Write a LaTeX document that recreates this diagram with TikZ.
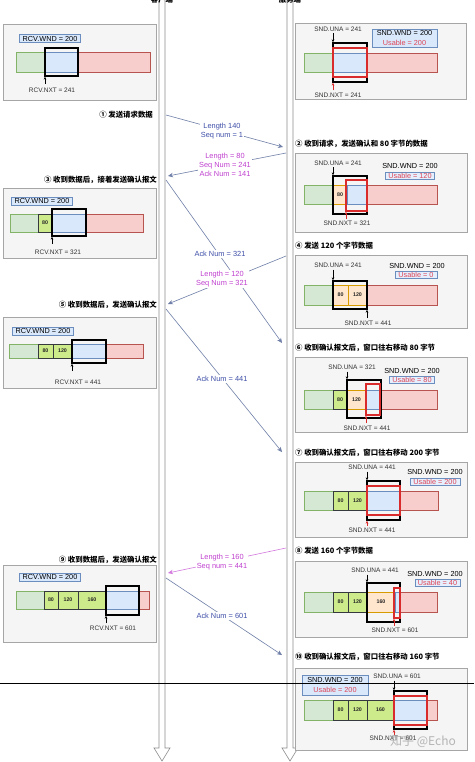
\documentclass[tikz,border=0pt]{standalone}
\usepackage{fontspec}
\setmainfont{Liberation Sans}
\newfontfamily\cjk{Noto Sans CJK SC}
\usetikzlibrary{arrows.meta}
\definecolor{gfill}{HTML}{D5E8D4}\definecolor{gline}{HTML}{82B366}
\definecolor{bfill}{HTML}{DAE8FC}\definecolor{bline}{HTML}{6C8EBF}
\definecolor{rfill}{HTML}{F8CECC}\definecolor{rline}{HTML}{B85450}
\definecolor{ofill}{HTML}{FFE6CC}\definecolor{oline}{HTML}{D79B00}
\definecolor{dfill}{HTML}{CDEB8B}\definecolor{dline}{HTML}{36393D}
\definecolor{pfill}{HTML}{F5F5F5}\definecolor{pline}{HTML}{A6A6A6}
\definecolor{usered}{HTML}{DD4455}
\definecolor{winred}{HTML}{D92B2B}
\definecolor{msgline}{HTML}{6F7FA8}
\definecolor{msgblue}{HTML}{3F4FA8}
\definecolor{msgpink}{HTML}{C040D0}
\newcommand\barseg[5]{\draw[#1] (#2,#4) rectangle (#3,#5);}
\begin{document}
\begin{tikzpicture}[x=1pt,y=-1pt,
  panel/.style={draw=pline,fill=pfill,line width=0.6pt},
  gseg/.style={draw=gline,fill=gfill,line width=0.6pt},
  bseg/.style={draw=bline,fill=bfill,line width=0.6pt},
  rseg/.style={draw=rline,fill=rfill,line width=0.6pt},
  oseg/.style={draw=oline,fill=ofill,line width=0.6pt},
  dseg/.style={draw=dline,fill=dfill,line width=0.6pt},
  win/.style={draw=black,line width=1.3pt},
  usewin/.style={draw=winred,line width=1.1pt},
  lbl/.style={font=\fontsize{6.5}{7}\selectfont,text=black!80,inner sep=0.5pt},
  wnd/.style={font=\fontsize{7.3}{8}\selectfont,inner sep=1pt},
  wndbox/.style={wnd,draw=bline,fill=bfill,line width=0.5pt,inner xsep=3pt,inner ysep=1.2pt},
  usebox/.style={wnd,text=usered,draw=bline,fill=bfill!70,line width=0.5pt,inner xsep=3pt,inner ysep=0.8pt},
  num/.style={font=\fontsize{5.3}{5.5}\selectfont\bfseries,inner sep=0pt,text=black!85},
  ttl/.style={font=\cjk\bfseries\fontsize{7.4}{8}\selectfont,inner sep=0pt},
  ptr/.style={-{Stealth[length=3pt,width=2.6pt]},line width=0.5pt},
  msg/.style={-{Stealth[length=5pt,width=4.5pt]},draw=msgline,line width=0.6pt},
  mtxt/.style={font=\fontsize{7.4}{9}\selectfont,fill=white,inner sep=0.8pt,align=center},
  tl/.style={draw=black!45,fill=white,line width=0.6pt}]
\useasboundingbox (0,0) rectangle (474,762);
\fill[white] (0,0) rectangle (474,762);

% timelines
\draw[tl] (159,-3) -- (159,748) -- (154,748) -- (162,761) -- (170,748) -- (165,748) -- (165,-3);
\draw[tl] (287,-3) -- (287,748) -- (282,748) -- (290,761) -- (298,748) -- (293,748) -- (293,-3);
\node[ttl] (hc) at (162,0) {客户端};
\node[ttl] (hs) at (290,0) {服务端};

% ---------- client panel 1
\draw[panel] (3,24) rectangle (156,100);
\node[wndbox] (c1w) at (50,38.5) {RCV.WND = 200};
\barseg{gseg}{16}{45}{52}{72}
\barseg{bseg}{45}{78}{52}{72}
\barseg{rseg}{78}{150}{52}{72}
\draw[win] (45,48) rectangle (78,76);
\coordinate (c1pa) at (45,84); \coordinate (c1pb) at (45,76.7);
\draw[ptr] (c1pa) -- (c1pb);
\node[lbl] (c1n) at (52,90.5) {RCV.NXT = 241};
\node[ttl,anchor=east] (t1) at (153,115) {① 发送请求数据};

% ---------- client panel 2
\node[ttl,anchor=east] (t3) at (157,180) {③ 收到数据后，接着发送确认报文};
\draw[panel] (3,188) rectangle (156,258);
\node[wndbox] (c2w) at (42,201) {RCV.WND = 200};
\barseg{gseg}{10}{38}{214}{232}
\barseg{dseg}{38}{52}{214}{232}
\barseg{bseg}{52}{86}{214}{232}
\barseg{rseg}{86}{143}{214}{232}
\node[num] (c2a) at (45,223) {80};
\draw[win] (52,209) rectangle (86,236);
\coordinate (c2pa) at (52,244); \coordinate (c2pb) at (52,236.7);
\draw[ptr] (c2pa) -- (c2pb);
\node[lbl] (c2n) at (58,252) {RCV.NXT = 321};

% ---------- client panel 3
\node[ttl,anchor=east] (t5) at (157,305) {⑤ 收到数据后，发送确认报文};
\draw[panel] (3,317) rectangle (156,388);
\node[wndbox] (c3w) at (43,331) {RCV.WND = 200};
\barseg{gseg}{9}{38}{344}{358}
\barseg{dseg}{38}{53}{344}{358}
\barseg{dseg}{53}{72}{344}{358}
\barseg{bseg}{72}{106}{344}{358}
\barseg{rseg}{106}{143}{344}{358}
\node[num] (c3a) at (45.5,351) {80};
\node[num] (c3b) at (62.5,351) {120};
\draw[win] (72,340) rectangle (106,363);
\coordinate (c3pa) at (72,371); \coordinate (c3pb) at (72,363.7);
\draw[ptr] (c3pa) -- (c3pb);
\node[lbl] (c3n) at (78,382) {RCV.NXT = 441};

% ---------- client panel 4
\node[ttl,anchor=east] (t9) at (157,560) {⑨ 收到数据后，发送确认报文};
\draw[panel] (3,565) rectangle (156,642);
\node[wndbox] (c4w) at (50,577) {RCV.WND = 200};
\barseg{gseg}{16}{44}{591}{609}
\barseg{dseg}{44}{58}{591}{609}
\barseg{dseg}{58}{78}{591}{609}
\barseg{dseg}{78}{106}{591}{609}
\barseg{bseg}{106}{139}{591}{609}
\barseg{rseg}{139}{149}{591}{609}
\node[num] (c4a) at (51,600) {80};
\node[num] (c4b) at (68,600) {120};
\node[num] (c4c) at (92,600) {160};
\draw[win] (106,586) rectangle (139,615);
\coordinate (c4pa) at (106,623); \coordinate (c4pb) at (106,615.7);
\draw[ptr] (c4pa) -- (c4pb);
\node[lbl] (c4n) at (113,628) {RCV.NXT = 601};

% ---------- server panel 1
\draw[panel] (295,23) rectangle (466,99);
\barseg{gseg}{304}{333}{53}{72}
\barseg{bseg}{333}{367}{53}{72}
\barseg{rseg}{367}{437}{53}{72}
\draw[win] (333,43) rectangle (367,82);
\draw[usewin] (333,48) rectangle (367,77);
\node[lbl] (s1u) at (338,29) {SND.UNA = 241};
\coordinate (s1ua) at (333,33.5); \coordinate (s1ub) at (333,42.3);
\draw[ptr] (s1ua) -- (s1ub);
\coordinate (s1na) at (333,90.5); \coordinate (s1nb) at (333,82.7);
\draw[ptr,winred] (s1na) -- (s1nb);
\node[lbl] (s1n) at (338,95) {SND.NXT = 241};
\node[wnd,draw=bline,fill=bfill,line width=0.5pt,minimum width=65pt,minimum height=18pt,align=center,font=\fontsize{7.3}{9.5}\selectfont] (s1w) at (404.5,38) {SND.WND = 200\\\textcolor{usered}{Usable = 200}};

% ---------- server panel 2
\node[ttl,anchor=west] (t2) at (295,144) {② 收到请求，发送确认和 80 字节的数据};
\draw[panel] (295,153) rectangle (467,232);
\barseg{gseg}{304}{333}{185}{204}
\barseg{oseg}{333}{347}{185}{204}
\barseg{bseg}{347}{367}{185}{204}
\barseg{rseg}{367}{437}{185}{204}
\node[num] (s2a) at (340,194.5) {80};
\draw[win] (333,176) rectangle (367,214);
\draw[usewin] (346,180) rectangle (367,211);
\node[lbl] (s2u) at (338,163) {SND.UNA = 241};
\coordinate (s2ua) at (333,167.5); \coordinate (s2ub) at (333,175.3);
\draw[ptr] (s2ua) -- (s2ub);
\coordinate (s2na) at (346,219); \coordinate (s2nb) at (346,211.7);
\draw[ptr,winred] (s2na) -- (s2nb);
\node[lbl] (s2n) at (347,223) {SND.NXT = 321};
\node[wnd] (s2w) at (410,166) {SND.WND = 200};
\node[usebox,minimum width=48pt] (s2s) at (410,176) {Usable = 120};

% ---------- server panel 3
\node[ttl,anchor=west] (t4) at (295,246) {④ 发送 120 个字节数据};
\draw[panel] (295,255) rectangle (467,328);
\barseg{gseg}{304}{333}{285}{305}
\barseg{oseg}{333}{348}{285}{305}
\barseg{oseg}{348}{367}{285}{305}
\barseg{rseg}{367}{437}{285}{305}
\node[num] (s3a) at (340.5,295) {80};
\node[num] (s3b) at (357.5,295) {120};
\draw[win] (333,281) rectangle (367,309);
\node[lbl] (s3u) at (338,265) {SND.UNA = 241};
\coordinate (s3ua) at (333,269.5); \coordinate (s3ub) at (333,280.3);
\draw[ptr] (s3ua) -- (s3ub);
\coordinate (s3na) at (367,318); \coordinate (s3nb) at (367,309.7);
\draw[ptr] (s3na) -- (s3nb);
\node[lbl] (s3n) at (368,323) {SND.NXT = 441};
\node[wnd] (s3w) at (417,266) {SND.WND = 200};
\node[usebox,minimum width=42pt] (s3s) at (416,274.5) {Usable = 0};

% ---------- server panel 4
\node[ttl,anchor=west] (t6) at (295,348) {⑥ 收到确认报文后，窗口往右移动 80 字节};
\draw[panel] (295,357) rectangle (467,432);
\barseg{gseg}{304}{333}{390}{409}
\barseg{dseg}{333}{347}{390}{409}
\barseg{oseg}{347}{366}{390}{409}
\barseg{bseg}{366}{381}{390}{409}
\barseg{rseg}{381}{437}{390}{409}
\node[num] (s4a) at (340,399.5) {80};
\node[num] (s4b) at (356.5,399.5) {120};
\draw[win] (347,380) rectangle (381,418);
\draw[usewin] (366,384) rectangle (380,415);
\node[lbl] (s4u) at (352,367) {SND.UNA = 321};
\coordinate (s4ua) at (347,371.5); \coordinate (s4ub) at (347,379.3);
\draw[ptr] (s4ua) -- (s4ub);
\coordinate (s4na) at (366,423); \coordinate (s4nb) at (366,415.7);
\draw[ptr,winred] (s4na) -- (s4nb);
\node[lbl] (s4n) at (367,428) {SND.NXT = 441};
\node[wnd] (s4w) at (412,371) {SND.WND = 200};
\node[usebox,minimum width=43pt] (s4s) at (412,380) {Usable = 80};

% ---------- server panel 5
\node[ttl,anchor=west] (t7) at (295,453) {⑦ 收到确认报文后，窗口往右移动 200 字节};
\draw[panel] (295,462) rectangle (467,537);
\barseg{gseg}{304}{333}{491}{510}
\barseg{dseg}{333}{348}{491}{510}
\barseg{dseg}{348}{367}{491}{510}
\barseg{bseg}{367}{400}{491}{510}
\barseg{rseg}{400}{438}{491}{510}
\node[num] (s5a) at (340.5,500.5) {80};
\node[num] (s5b) at (357.5,500.5) {120};
\draw[win] (367,481) rectangle (400,520);
\draw[usewin] (367,486) rectangle (400,515);
\node[lbl] (s5u) at (372,467) {SND.UNA = 441};
\coordinate (s5ua) at (367,471.5); \coordinate (s5ub) at (367,480.3);
\draw[ptr] (s5ua) -- (s5ub);
\coordinate (s5na) at (367,526); \coordinate (s5nb) at (367,520.7);
\draw[ptr,winred] (s5na) -- (s5nb);
\node[lbl] (s5n) at (372,530) {SND.NXT = 441};
\node[wnd] (s5w) at (435,472) {SND.WND = 200};
\node[usebox,minimum width=50pt] (s5s) at (435,482) {Usable = 200};

% ---------- server panel 6
\node[ttl,anchor=west] (t8) at (295,551) {⑧ 发送 160 个字节数据};
\draw[panel] (295,561) rectangle (467,637);
\barseg{gseg}{304}{333}{592}{612}
\barseg{dseg}{333}{348}{592}{612}
\barseg{dseg}{348}{367}{592}{612}
\barseg{oseg}{367}{395}{592}{612}
\barseg{bseg}{395}{399}{592}{612}
\barseg{rseg}{399}{437}{592}{612}
\node[num] (s6a) at (340.5,602) {80};
\node[num] (s6b) at (357.5,602) {120};
\node[num] (s6c) at (381,602) {160};
\draw[win] (367,583) rectangle (400,622);
\draw[usewin] (394,588) rectangle (400,618);
\node[lbl] (s6u) at (375,570) {SND.UNA = 441};
\coordinate (s6ua) at (367,574.5); \coordinate (s6ub) at (367,582.3);
\draw[ptr] (s6ua) -- (s6ub);
\coordinate (s6na) at (394,626); \coordinate (s6nb) at (394,618.7);
\draw[ptr,winred] (s6na) -- (s6nb);
\node[lbl] (s6n) at (395,630) {SND.NXT = 601};
\node[wnd] (s6w) at (435,574) {SND.WND = 200};
\node[usebox,minimum width=41pt] (s6s) at (437.5,583) {Usable = 40};

% ---------- server panel 7
\node[ttl,anchor=west] (t10) at (295,657) {⑩ 收到确认报文后，窗口往右移动 160 字节};
\draw[panel] (295,668) rectangle (467,750);
\barseg{gseg}{304}{333}{700}{720}
\barseg{dseg}{333}{348}{700}{720}
\barseg{dseg}{348}{367}{700}{720}
\barseg{dseg}{367}{394}{700}{720}
\barseg{bseg}{394}{427}{700}{720}
\barseg{rseg}{427}{437}{700}{720}
\node[num] (s7a) at (340.5,710) {80};
\node[num] (s7b) at (357.5,710) {120};
\node[num] (s7c) at (380.5,710) {160};
\draw[win] (394,691) rectangle (427,729);
\draw[usewin] (394,696) rectangle (427,725);
\node[lbl] (s7u) at (397,676) {SND.UNA = 601};
\coordinate (s7ua) at (394,680.5); \coordinate (s7ub) at (394,690.3);
\draw[ptr] (s7ua) -- (s7ub);
\coordinate (s7na) at (394,734.5); \coordinate (s7nb) at (394,729.7);
\draw[ptr,winred] (s7na) -- (s7nb);
\node[lbl] (s7n) at (393,738.5) {SND.NXT = 601};
\node[wnd,draw=bline,fill=bfill,line width=0.5pt,minimum width=66pt,minimum height=20pt,align=center,font=\fontsize{7.3}{9.5}\selectfont] (s7w) at (335,685) {SND.WND = 200\\\textcolor{usered}{Usable = 200}};

% ---------- messages
\coordinate (m1a) at (166,115); \coordinate (m1b) at (283,147);
\draw[msg] (m1a) -- (m1b);
\node[mtxt,text=msgblue] (m1t) at (222,131) {Length 140\\Seq num = 1};

\coordinate (m2a) at (286,153); \coordinate (m2b) at (168,176);
\draw[msg] (m2a) -- (m2b);
\node[mtxt,text=msgpink] (m2t) at (225,164.5) {Length = 80\\Seq Num = 241\\Ack Num = 141};

\coordinate (m3a) at (166,180); \coordinate (m3b) at (282,343);
\draw[msg] (m3a) -- (m3b);
\node[mtxt,text=msgblue] (m3t) at (220,254) {Ack Num = 321};

\coordinate (m4a) at (286,256); \coordinate (m4b) at (168,304);
\draw[msg] (m4a) -- (m4b);
\node[mtxt,text=msgpink] (m4t) at (222,279) {Length = 120\\Seq Num = 321};

\coordinate (m5a) at (166,309); \coordinate (m5b) at (282,452);
\draw[msg] (m5a) -- (m5b);
\node[mtxt,text=msgblue] (m5t) at (222,379) {Ack Num = 441};

\coordinate (m6a) at (286,548); \coordinate (m6b) at (168,573);
\draw[msg,draw=msgpink!70] (m6a) -- (m6b);
\node[mtxt,text=msgpink] (m6t) at (222,562) {Length = 160\\Seq num = 441};

\coordinate (m7a) at (166,578); \coordinate (m7b) at (282,655);
\draw[msg] (m7a) -- (m7b);
\node[mtxt,text=msgblue] (m7t) at (222,616) {Ack Num = 601};

% overlay line and watermark
\coordinate (hl1) at (0,683); \coordinate (hl2) at (474,683);
\draw[black,line width=0.6pt] (hl1) -- (hl2);
\node[font=\cjk\fontsize{12}{12}\selectfont,text=black!40,opacity=0.7,inner sep=0pt] (wm) at (423,741) {知乎 @Echo};
\end{tikzpicture}
\end{document}
